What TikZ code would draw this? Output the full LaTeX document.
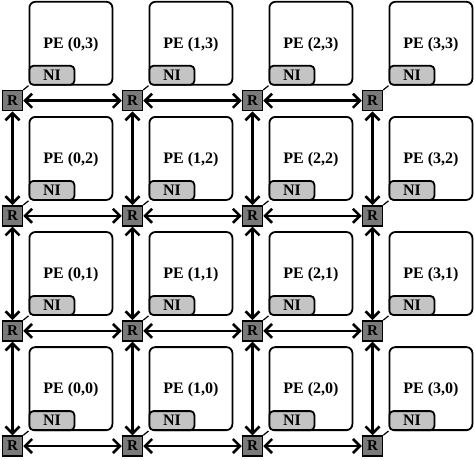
\documentclass[tikz,border=0pt]{standalone}
\usepackage{fontspec}
\setmainfont{Liberation Serif}
\usetikzlibrary{arrows.meta}
\definecolor{rgray}{HTML}{7A7A7A}
\definecolor{nigray}{HTML}{C4C4C4}
\tikzset{
  router/.style={draw=black, line width=1.5pt, fill=rgray, minimum size=20pt, inner sep=0pt,
    font=\fontsize{15}{15}\selectfont\bfseries},
  pebox/.style={draw=black, line width=1.8pt, fill=white, rounded corners=6pt,
    minimum width=83pt, minimum height=83pt, inner sep=0pt},
  nibox/.style={draw=black, line width=1.8pt, fill=nigray, rounded corners=4pt,
    minimum width=45pt, minimum height=19pt, inner sep=0pt,
    font=\fontsize{16}{16}\selectfont\bfseries},
  petext/.style={font=\fontsize{16}{16}\selectfont\bfseries, inner sep=0pt},
  link/.style={line width=2.6pt, {Straight Barb[length=7pt,width=14pt,line width=2.6pt]}-{Straight Barb[length=7pt,width=14pt,line width=2.6pt]}},
  tie/.style={line width=1.2pt}
}
\begin{document}
\begin{tikzpicture}[x=1pt,y=-1pt]
\useasboundingbox (0,0) rectangle (474,460);
\foreach \i in {0,1,2,3}{
  \foreach \j in {0,1,2,3}{
    \pgfmathsetmacro{\rx}{12.5+120*\i}
    \pgfmathsetmacro{\ry}{446-115.1*\j}
    \node[pebox, anchor=south west] (PE-\i-\j) at (\rx+16,\ry-15) {};
    \node[petext] (T-\i-\j) at ([yshift=-1pt]PE-\i-\j.center) {PE (\i,\j)};
    \node[nibox, anchor=south west] (NI-\i-\j) at (PE-\i-\j.south west) {NI};
    \node[router] (R-\i-\j) at (\rx,\ry) {R};
    \draw[tie] (R-\i-\j.north east) -- (NI-\i-\j.south west);
  }
}
\foreach \i/\k in {0/1,1/2,2/3}{
  \foreach \j in {0,1,2,3}{
    \draw[link] (R-\i-\j) -- (R-\k-\j);
    \draw[link] (R-\j-\i) -- (R-\j-\k);
  }
}
\end{tikzpicture}
\end{document}
